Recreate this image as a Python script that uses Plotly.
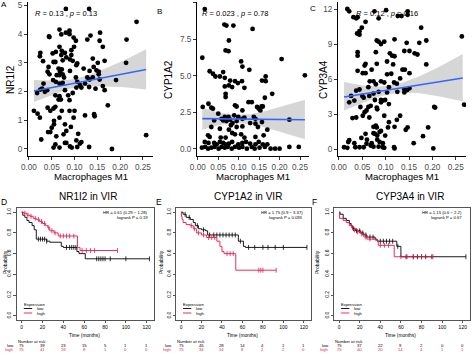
import numpy as np
import plotly.graph_objects as go

W, H = 474, 356
def px(x): return x / W
def py(y): return 1 - y / H

FONT = "Liberation Sans, Arial, sans-serif"
RED = "#E8174B"

# ---------------- Panel A: NR1I2 vs Macrophages M1 ----------------
a_x = [0.081,0.132,0.236,0.067,0.089,0.045,0.044,0.071,0.081,0.098,0.103,0.135,0.156,0.155,0.214,0.128,0.089,
       0.025,0.024,0.031,0.052,0.059,0.072,0.071,0.079,0.067,0.093,0.093,0.099,0.082,0.090,0.096,0.054,0.058,0.074,0.106,0.104,0.140,0.162,0.166,0.151,0.213,0.043,0.041,0.045,0.065,0.068,0.067,0.072,0.074,0.090,0.120,0.133,0.142,0.148,0.153,0.153,0.140,0.128,0.103,0.077,0.061,
       0.053,0.059,0.032,0.067,0.074,0.106,0.112,0.123,0.133,0.155,0.191,0.162,0.146,0.132,0.115,0.104,0.029,0.025,0.018,0.035,0.040,0.096,0.079,0.058,0.067,0.086,0.065,0.070,0.089,0.166,
       0.173,0.041,0.054,0.047,0.058,0.072,0.089,0.100,0.011,0.019,0.024,0.067,0.098,0.123,0.143,0.144,0.055,0.055,0.050,0.079,0.092,0.082,0.047,0.042,0.060,0.076,0.027,0.108,0.257,0.104,0.115,0.112,0.082,0.090,0.058,0.054,0.067,0.094,0.106,0.132,0.182,0.079]
a_y = [4.88,4.88,4.43,4.16,4.12,3.90,3.92,3.99,4.05,3.88,3.77,3.95,4.05,3.77,3.81,3.81,4.00,
       3.35,3.23,3.06,3.33,3.38,3.42,3.27,3.35,3.56,3.44,3.27,3.56,3.19,3.12,3.07,3.03,3.03,3.09,2.98,2.92,3.15,3.56,3.07,3.00,3.00,2.86,2.69,2.60,2.80,2.69,2.57,2.77,2.60,2.72,2.80,2.72,2.86,2.74,2.69,2.60,2.49,2.49,2.49,2.49,2.57,
       2.40,2.34,2.28,2.28,2.30,2.34,2.22,2.28,2.42,2.42,2.40,2.19,2.10,2.16,2.14,2.14,2.10,2.07,1.95,1.99,2.05,1.95,2.05,1.87,1.84,1.87,1.72,1.72,1.70,2.05,
       1.52,1.44,1.41,1.33,1.47,1.33,1.33,1.33,1.33,1.23,1.09,1.09,1.09,1.17,1.21,1.14,0.98,0.86,0.74,0.86,0.77,0.63,0.59,0.59,0.44,0.51,0.33,0.53,0.48,0.30,0.24,0.19,0.21,0.09,0.16,0.05,0.05,0.05,0.07,0.07,0.00,0.21]
a_fit_x = [0.011, 0.05, 0.09, 0.13, 0.17, 0.21, 0.257]
a_fit_y = [2.02, 2.14, 2.26, 2.38, 2.50, 2.63, 2.77]
a_ci_hi = [2.40, 2.39, 2.41, 2.56, 2.82, 3.10, 3.47]
a_ci_lo = [1.64, 1.88, 2.11, 2.20, 2.18, 2.15, 2.07]

# ---------------- Panel B: CYP1A2 ----------------
b_x = [0.017,0.065,0.070,0.087,0.134,0.076,0.068,0.075,0.011,0.106,0.109,0.126,0.205,0.262,
       0.029,0.037,0.043,0.054,0.062,0.066,0.079,0.091,0.098,0.108,0.114,0.166,0.157,0.066,0.076,0.084,0.068,0.068,0.182,0.166,0.164,
       0.026,0.033,0.037,0.012,0.091,0.095,0.109,0.124,0.132,0.145,0.149,0.153,0.156,0.159,
       0.050,0.066,0.075,0.089,0.099,0.114,0.137,0.141,0.040,0.058,0.062,0.070,0.079,0.085,0.095,0.109,0.128,0.141,0.157,0.224,
       0.033,0.054,0.081,0.076,0.095,0.109,0.147,0.170,0.025,0.029,0.084,0.091,0.106,0.114,0.141,0.161,0.056,0.068,
       0.017,0.026,0.040,0.046,0.054,0.062,0.068,0.076,0.084,0.099,0.109,0.118,0.128,0.141,0.149,0.159,0.170,
       0.010,0.018,0.025,0.033,0.041,0.051,0.058,0.066,0.073,0.083,0.091,0.101,0.109,0.120,0.132,0.139,0.151,0.164,0.178,0.189,0.200,0.224,0.247]
b_y = [9.56,8.50,8.43,8.43,8.20,7.41,6.73,6.68,6.23,5.98,5.63,5.41,6.14,5.03,
       5.31,5.14,4.95,4.95,5.25,4.86,4.67,4.63,4.50,4.63,4.18,4.95,4.67,4.27,4.34,4.23,3.77,3.55,3.77,4.63,3.50,
       3.09,2.82,2.75,2.87,2.98,2.90,2.63,3.20,3.20,2.87,2.75,2.63,2.90,2.90,
       2.41,2.19,2.19,2.30,2.19,2.14,2.19,2.06,1.95,2.06,1.95,1.91,2.00,1.77,1.91,2.06,1.77,1.73,1.84,2.00,
       1.50,1.38,1.62,1.32,1.50,1.54,1.50,1.32,0.93,0.82,1.09,1.00,1.00,0.78,0.82,0.93,0.78,0.78,
       0.48,0.41,0.41,0.32,0.48,0.41,0.32,0.36,0.48,0.32,0.41,0.48,0.36,0.32,0.48,0.32,0.32,
       0.09,0.14,0.02,0.09,0.14,0.02,0.14,0.09,0.14,0.02,0.14,0.09,0.14,0.02,0.14,0.02,0.09,0.14,0.02,0.02,0.02,0.14,0.14]
b_fit_x = [0.011, 0.05, 0.09, 0.13, 0.17, 0.21, 0.262]
b_fit_y = [2.07, 2.06, 2.05, 2.04, 2.03, 2.02, 2.00]
b_ci_hi = [2.82, 2.50, 2.33, 2.38, 2.62, 2.95, 3.36]
b_ci_lo = [1.32, 1.62, 1.77, 1.70, 1.44, 1.09, 0.66]

# ---------------- Panel C: CYP3A4 ----------------
c_x = [0.018,0.022,0.031,0.037,0.040,0.057,0.076,0.085,0.101,0.126,0.134,0.147,0.147,0.049,0.044,0.044,0.176,0.039,
       0.081,0.085,0.090,0.097,0.119,0.145,0.172,0.187,0.263,0.079,0.109,0.114,0.119,0.140,0.151,0.162,0.168,0.040,0.040,
       0.081,0.103,0.116,0.057,0.055,0.070,0.057,0.051,0.040,0.103,0.112,0.136,0.141,0.131,0.151,0.187,
       0.066,0.074,0.079,0.090,0.097,0.118,0.124,0.107,0.063,0.037,0.044,0.074,0.085,0.103,0.125,0.140,0.146,0.151,0.140,
       0.065,0.077,0.090,0.094,0.099,0.107,0.090,0.050,0.053,0.033,0.022,0.026,0.046,0.063,0.068,0.081,0.082,0.059,0.055,
       0.065,0.037,0.029,0.051,0.097,0.131,0.124,0.107,0.105,0.119,0.147,0.143,0.191,0.204,0.206,0.268,
       0.079,0.074,0.081,0.090,0.087,0.057,0.074,0.082,0.048,0.099,0.022,0.020,0.033,0.035,0.060,0.082,0.087,0.094,0.059,0.070,
       0.068,0.074,0.085,0.094,0.097,0.118,0.119,0.053,0.044,0.011,0.018,0.160,0.180,0.202,0.077]
c_y = [12.0,11.8,11.3,11.2,11.3,10.9,11.8,11.2,11.9,11.4,11.4,11.8,11.5,10.4,10.1,9.8,10.4,9.9,
       9.3,9.2,9.0,9.2,9.4,9.1,9.1,9.3,9.65,8.3,8.2,8.0,7.95,8.4,8.4,8.2,8.1,8.3,8.0,
       7.3,7.5,7.25,7.3,7.15,6.8,6.5,6.5,6.7,6.4,6.45,6.8,6.8,6.05,6.5,7.25,
       5.8,5.8,5.55,5.8,5.7,5.7,5.6,5.3,5.3,5.0,5.1,4.75,4.9,4.85,4.9,5.1,5.05,5.2,4.85,
       4.55,4.2,4.2,4.15,4.2,3.85,4.0,4.55,4.4,4.15,4.0,4.55,3.6,3.6,3.7,3.55,3.4,3.3,3.15,
       2.7,2.7,2.65,2.85,2.85,2.85,2.5,2.3,1.85,1.9,1.85,1.65,1.85,3.6,3.55,3.8,
       2.0,1.9,1.85,1.55,1.45,1.3,1.35,1.15,0.95,1.15,0.75,0.6,0.5,0.15,0.8,0.8,0.6,0.5,0.45,0.5,
       0.3,0.2,0.2,0.15,0.1,0.15,0.05,0.15,0.15,0.15,0.1,0.5,1.1,0.05,1.3]
c_fit_x = [0.011, 0.05, 0.09, 0.13, 0.17, 0.21, 0.265]
c_fit_y = [4.46, 4.71, 4.97, 5.22, 5.48, 5.74, 6.09]
c_ci_hi = [5.75, 5.45, 5.35, 5.60, 6.20, 6.95, 8.15]
c_ci_lo = [3.30, 3.95, 4.55, 4.85, 4.80, 4.55, 4.10]

scatter_panels = [
    dict(x=a_x, y=a_y, fx=a_fit_x, fy=a_fit_y, hi=a_ci_hi, lo=a_ci_lo, ytitle="NR1I2",
         yrange=[-0.244, 5.12], ytick=[0,1,2,3,4,5], yfmt="d", stat="<i>R</i> = 0.13 , <i>p</i> = 0.13",
         xd=(28, 153), ytx=10, stx=33, letter="A", lx=4, ly=5),
    dict(x=b_x, y=b_y, fx=b_fit_x, fy=b_fit_y, hi=b_ci_hi, lo=b_ci_lo, ytitle="CYP1A2",
         yrange=[-0.48, 10.04], ytick=[0,2.5,5,7.5,10], yfmt=".1f", stat="<i>R</i> = 0.023 , <i>p</i> = 0.78",
         xd=(197, 309), ytx=168, stx=200, letter="B", lx=159, ly=12),
    dict(x=c_x, y=c_y, fx=c_fit_x, fy=c_fit_y, hi=c_ci_hi, lo=c_ci_lo, ytitle="CYP3A4",
         yrange=[-0.6, 12.6], ytick=[0,3,6,9,12], yfmt="d", stat="<i>R</i> = 0.12 , <i>p</i> = 0.16",
         xd=(338, 466), ytx=323, stx=354, letter="C", lx=313, ly=8),
]

# ---------------- KM panels ----------------
x_ticks_km = [0, 20, 40, 60, 80, 100, 120]
d_low_t = [0, 1, 3, 5, 7, 10, 12, 14, 24, 27, 38, 40, 53, 55, 61, 122.6]
d_low_s = [1.0, 0.97, 0.95, 0.92, 0.90, 0.87, 0.83, 0.74, 0.72, 0.71, 0.67, 0.66, 0.62, 0.60, 0.55, 0.55]
d_high_t = [0, 2, 5, 8, 11, 14, 17, 20, 23, 25, 27, 31, 35, 53.5, 56, 92]
d_high_s = [1.0, 0.99, 0.97, 0.96, 0.94, 0.93, 0.91, 0.89, 0.87, 0.85, 0.82, 0.80, 0.77, 0.66, 0.63, 0.63]
d_low_c = [16, 18, 20, 22, 24, 43, 46, 48, 50, 52, 72, 74, 76, 78, 80, 85, 100, 122.6]
d_high_c = [3, 6, 9, 13, 16, 19, 22, 26, 29, 32, 37, 40, 43, 46, 50, 58, 62, 66, 70, 92]
d_risk_low = [75, 39, 23, 15, 5, 1, 1]
d_risk_high = [75, 41, 19, 8, 1, 0, 0]

e_low_t = [0, 2, 5, 9, 12, 14, 17, 20, 24, 26, 56, 61, 63, 123]
e_low_s = [1.0, 0.98, 0.95, 0.93, 0.90, 0.87, 0.84, 0.83, 0.82, 0.78, 0.72, 0.67, 0.66, 0.66]
e_high_t = [0, 0.5, 1, 2, 5, 9, 12, 15, 20, 25, 35, 38, 40, 42, 53.5, 93]
e_high_s = [1.0, 0.96, 0.93, 0.90, 0.88, 0.87, 0.84, 0.80, 0.78, 0.755, 0.72, 0.67, 0.62, 0.60, 0.44, 0.44]
e_low_c = [4, 8, 16, 22, 28, 32, 35, 38, 41, 44, 47, 50, 53, 58, 66, 72, 80, 85, 92, 100, 123]
e_high_c = [10, 13, 17, 22, 27, 30, 33, 45, 48, 51, 76, 78, 80, 93]
e_risk_low = [75, 45, 28, 14, 4, 1, 1]
e_risk_high = [75, 34, 14, 8, 2, 2, 0]

f_low_t = [0, 1, 4, 7, 10, 11.5, 13, 16, 21, 24, 27, 35, 37, 56, 60, 123]
f_low_s = [1.0, 0.98, 0.94, 0.92, 0.89, 0.87, 0.84, 0.82, 0.80, 0.78, 0.76, 0.74, 0.72, 0.67, 0.57, 0.57]
f_high_t = [0, 0.5, 4, 7, 10, 13, 18, 21, 24, 27, 35, 38, 53.5, 91]
f_high_s = [1.0, 0.94, 0.92, 0.90, 0.87, 0.83, 0.81, 0.79, 0.76, 0.74, 0.73, 0.68, 0.57, 0.57]
f_low_c = [14, 17, 20, 23, 26, 30, 33, 40, 43, 46, 49, 52, 57, 65, 72, 76, 80, 84, 90, 123]
f_high_c = [12, 15, 18, 22, 26, 30, 40, 44, 48, 60, 66, 72, 80, 91]
f_risk_low = [75, 37, 22, 9, 2, 0, 0]
f_risk_high = [75, 40, 20, 14, 4, 1, 1]

km_panels = [
    dict(title="NR1I2 in VIR", lt=d_low_t, ls=d_low_s, ht=d_high_t, hs=d_high_s, lc=d_low_c, hc=d_high_c,
         rl=d_risk_low, rh=d_risk_high, hr="HR = 0.61 (0.29 − 1.28)", lp="logrank P = 0.19",
         xd=(16.6, 154), letter="D", lx=4, tx=88, hrx=150, probx=5, labx=16),
    dict(title="CYP1A2 in VIR", lt=e_low_t, ls=e_low_s, ht=e_high_t, hs=e_high_s, lc=e_low_c, hc=e_high_c,
         rl=e_risk_low, rh=e_risk_high, hr="HR = 1.75 (0.9 − 3.37)", lp="logrank P = 0.093",
         xd=(176, 311), letter="E", lx=159, tx=248, hrx=305, probx=161, labx=174),
    dict(title="CYP3A4 in VIR", lt=f_low_t, ls=f_low_s, ht=f_high_t, hs=f_high_s, lc=f_low_c, hc=f_high_c,
         rl=f_risk_low, rh=f_risk_high, hr="HR = 1.15 (0.6 − 2.2)", lp="logrank P = 0.67",
         xd=(334, 470), letter="F", lx=314, tx=410, hrx=464, probx=317, labx=331),
]

fig = go.Figure()
annotations = []
layout = {}

def ann(text, x, y, size, color="black", xanchor="center", xref="paper", angle=0):
    annotations.append(dict(text=text, xref=xref, yref="paper", x=x, y=y, xanchor=xanchor,
                            yanchor="middle", textangle=angle, showarrow=False,
                            font=dict(size=size, color=color, family=FONT)))

for i, p in enumerate(scatter_panels):
    n = i + 1
    xa = "x" if n == 1 else f"x{n}"
    ya = "y" if n == 1 else f"y{n}"
    band_x = list(p["fx"]) + list(p["fx"])[::-1]
    band_y = list(p["hi"]) + list(p["lo"])[::-1]
    fig.add_trace(go.Scatter(x=band_x, y=band_y, fill="toself", mode="lines",
                             line=dict(width=0), fillcolor="rgba(153,153,153,0.4)",
                             xaxis=xa, yaxis=ya, showlegend=False, hoverinfo="skip"))
    fig.add_trace(go.Scatter(x=p["x"], y=p["y"], mode="markers",
                             marker=dict(color="black", size=4.8, line=dict(width=0)),
                             xaxis=xa, yaxis=ya, showlegend=False))
    fig.add_trace(go.Scatter(x=p["fx"], y=p["fy"], mode="lines",
                             line=dict(color="#3366FF", width=1.6),
                             xaxis=xa, yaxis=ya, showlegend=False))
    layout["xaxis" if n == 1 else f"xaxis{n}"] = dict(
        domain=[px(p["xd"][0]), px(p["xd"][1])], anchor=ya, range=[-0.002, 0.272],
        tickvals=[0, 0.05, 0.1, 0.15, 0.2, 0.25], tickformat=".2f", automargin=False,
        showline=True, linecolor="black", linewidth=0.9, ticks="outside", ticklen=3,
        tickcolor="#333333", tickfont=dict(size=8.2, color="#4D4D4D", family=FONT),
        showgrid=False, zeroline=False)
    layout["yaxis" if n == 1 else f"yaxis{n}"] = dict(
        domain=[py(156), py(2)], anchor=xa, range=p["yrange"], tickvals=p["ytick"],
        tickformat=p["yfmt"], showline=True, linecolor="black", linewidth=0.9, automargin=False,
        ticks="outside", ticklen=3, tickcolor="#333333",
        tickfont=dict(size=8.2, color="#4D4D4D", family=FONT), showgrid=False, zeroline=False)
    ann("Macrophages M1", px((p["xd"][0] + p["xd"][1]) / 2), py(176.5), 9.6)
    ann(p["ytitle"], px(p["ytx"]), py(80), 10, angle=-90)
    ann(p["stat"], px(p["stx"]), py(14), 7.5, xanchor="left")
    ann(p["letter"], px(p["lx"]), py(p["ly"]), 8)

def surv_at(times, surv, t):
    idx = np.searchsorted(np.array(times), t, side="right") - 1
    return [surv[j] for j in idx]

km_top, km_bot = 208, 320
SM = 4.2
for i, p in enumerate(km_panels):
    n = i + 4
    xa, ya = f"x{n}", f"y{n}"
    for t, s, c, col in [(p["lt"], p["ls"], p["lc"], "black"), (p["ht"], p["hs"], p["hc"], RED)]:
        fig.add_trace(go.Scatter(x=t, y=s, mode="lines", line=dict(color=col, width=0.9, shape="hv"),
                                 xaxis=xa, yaxis=ya, showlegend=False))
        fig.add_trace(go.Scatter(x=c, y=surv_at(t, s, c), mode="markers",
                                 marker=dict(symbol="line-ns", size=3.5, line=dict(color=col, width=0.8)),
                                 xaxis=xa, yaxis=ya, showlegend=False))
    layout[f"xaxis{n}"] = dict(
        domain=[px(p["xd"][0]), px(p["xd"][1])], anchor=ya, range=[-4.9, 127], automargin=False,
        tickvals=x_ticks_km, showline=True, mirror=True, linecolor="#555555", linewidth=0.6,
        ticks="outside", ticklen=2.5, tickcolor="#555555", tickwidth=0.6,
        tickfont=dict(size=5, color="black", family=FONT), showgrid=False, zeroline=False)
    layout[f"yaxis{n}"] = dict(
        domain=[py(km_bot), py(km_top)], anchor=xa, range=[-0.04, 1.04], automargin=False,
        tickvals=[0, 0.2, 0.4, 0.6, 0.8, 1.0], tickformat=".1f", tickangle=-90,
        showline=True, mirror=True, linecolor="#555555", linewidth=0.6,
        ticks="outside", ticklen=2.5, tickcolor="#555555", tickwidth=0.6,
        tickfont=dict(size=5, color="black", family=FONT), showgrid=False, zeroline=False)
    ann(p["title"], px(p["tx"]), py(196), 10)
    ann(p["letter"], px(p["lx"]), py(202), 8.5)
    ann(p["hr"], px(p["hrx"]), py(212.5), SM, xanchor="right")
    ann(p["lp"], px(p["hrx"]), py(217), SM, xanchor="right")
    ann("Probability", px(p["probx"]), py(262), 5, angle=-90)
    ann("Time (months)", 60, py(335), 4.8, xref=xa)
    ann("Number at risk", 10, py(341), SM, xref=xa)
    ann("low", px(p["labx"]), py(345.3), SM, xanchor="right")
    ann("high", px(p["labx"]), py(349.6), SM, color=RED, xanchor="right")
    for t, vl, vh in zip(x_ticks_km, p["rl"], p["rh"]):
        ann(str(vl), t, py(345.3), SM, xref=xa)
        ann(str(vh), t, py(349.6), SM, color=RED, xref=xa)
    ann("Expression", 0, py(304), SM, xanchor="left", xref=xa)
    for lab, col, yy in [("low", "black", 308.5), ("high", RED, 313)]:
        fig.add_shape(type="line", xref=xa, yref="paper", x0=2, x1=10, y0=py(yy), y1=py(yy),
                      line=dict(color=col, width=0.9))
        ann(lab, 13, py(yy), SM, xanchor="left", xref=xa)

fig.update_layout(width=W, height=H, margin=dict(l=0, r=0, t=0, b=0, autoexpand=False),
                  paper_bgcolor="white", plot_bgcolor="white",
                  font=dict(family=FONT), annotations=annotations, **layout)
fig.write_html("out.html", config={"displayModeBar": False},
               post_script="document.body.style.margin='0';document.body.style.padding='0';")
